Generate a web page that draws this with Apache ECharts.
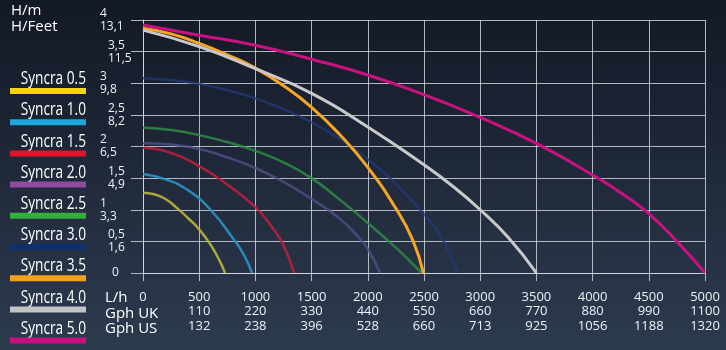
<!DOCTYPE html>
<html>
<head>
<meta charset="utf-8">
<script src="https://cdn.jsdelivr.net/npm/echarts@6/dist/echarts.min.js"></script>
<style>
html, body { margin: 0; padding: 0; }
#main { width: 726px; height: 350px; }
</style>
</head>
<body>
<div id="main"></div>
<script>
var myChart = echarts.init(document.getElementById('main'));

// models, legend bar colours, curve colours
var models = ['Syncra 0.5', 'Syncra 1.0', 'Syncra 1.5', 'Syncra 2.0', 'Syncra 2.5',
              'Syncra 3.0', 'Syncra 3.5', 'Syncra 4.0', 'Syncra 5.0'];
var legendColors = ['#f6d31a', '#1fa6de', '#e5122c', '#8d4a9e', '#36ad3e',
                    '#10306c', '#f7a11b', '#c4c4c4', '#c8117e'];
var lineColors = ['#b9b43a', '#2a92c4', '#bb1f3d', '#505088', '#2f8c44',
                  '#22397a', '#f6a623', '#c9c9c9', '#c8127f'];
var lineOpacity = [0.9, 0.9, 0.9, 0.8, 0.85, 0.75, 1, 1, 1];
var lineWidth = [2.5, 2.5, 2.5, 2.5, 2.5, 2.5, 3, 3, 3];

// curves: [flow L/h, head m]
var curve05 = [[0, 1.27], [100, 1.245], [200, 1.17], [300, 1.03], [400, 0.87], [500, 0.69],
               [600, 0.45], [680, 0.2], [730, 0]];
var curve10 = [[0, 1.565], [200, 1.48], [400, 1.31], [600, 1.0], [800, 0.55], [900, 0.28], [970, 0]];
var curve15 = [[0, 1.98], [250, 1.9], [500, 1.69], [750, 1.40], [1000, 1.04], [1150, 0.72],
               [1250, 0.44], [1345, 0]];
var curve20 = [[0, 2.05], [250, 2.03], [500, 1.96], [750, 1.83], [1000, 1.66], [1250, 1.44],
               [1500, 1.17], [1750, 0.86], [1900, 0.6], [2000, 0.38], [2110, 0]];
var curve25 = [[0, 2.30], [250, 2.26], [500, 2.18], [750, 2.07], [1000, 1.93], [1250, 1.75],
               [1500, 1.50], [1750, 1.16], [2000, 0.79], [2250, 0.40], [2400, 0.14], [2480, 0]];
var curve30 = [[0, 3.08], [250, 3.05], [500, 2.99], [750, 2.89], [1000, 2.76], [1250, 2.59],
               [1500, 2.38], [1750, 2.12], [2000, 1.80], [2250, 1.41], [2500, 0.93], [2650, 0.58], [2800, 0]];
var curve35 = [[0, 3.87], [250, 3.78], [500, 3.63], [750, 3.45], [1000, 3.24], [1250, 2.96],
               [1500, 2.62], [1750, 2.19], [2000, 1.67], [2250, 1.02], [2400, 0.52], [2495, 0]];
var curve40 = [[0, 3.84], [500, 3.58], [1000, 3.23], [1500, 2.84], [2000, 2.31], [2500, 1.71],
               [2750, 1.38], [3000, 1.0], [3250, 0.56], [3500, 0]];
var curve50 = [[0, 3.92], [500, 3.76], [1000, 3.60], [1500, 3.38], [2000, 3.13], [2500, 2.82],
               [3000, 2.46], [3500, 2.05], [4000, 1.55], [4250, 1.27], [4500, 0.94], [4750, 0.50], [5000, 0]];
var curves = [curve05, curve10, curve15, curve20, curve25, curve30, curve35, curve40, curve50];

// tick labels
var flowLh = ['0', '500', '1000', '1500', '2000', '2500', '3000', '3500', '4000', '4500', '5000'];
var flowGphUK = ['', '110', '220', '330', '440', '550', '660', '770', '880', '990', '1100'];
var flowGphUS = ['', '132', '238', '396', '528', '660', '713', '925', '1056', '1188', '1320'];
var headM = ['0', '0,5', '1', '1,5', '2', '2,5', '3', '3,5', '4'];
var headFeet = ['', '1,6', '3,3', '4,9', '6,5', '8,2', '9,8', '11,5', '13,1'];

var numFont = '"Open Sans", "Liberation Sans", sans-serif';
var gridColor = 'rgba(215,220,230,0.8)';

var graphics = [
    { type: 'text', left: 11, top: 3, style: { text: 'H/m', fill: '#fff', font: '15px ' + numFont } },
    { type: 'text', left: 11, top: 19, style: { text: 'H/Feet', fill: '#fff', font: '15px ' + numFont } },
    { type: 'text', left: 105, top: 290, style: { text: 'L/h\nGph UK\nGph US', fill: '#fff',
        font: '15px ' + numFont, lineHeight: 15.5 } }
];
models.forEach(function (name, i) {
    graphics.push({
        type: 'text',
        x: 86,
        y: 79 + i * 31.2,
        scaleX: 0.76,
        style: { text: name, x: 0, y: 0, textAlign: 'right', textVerticalAlign: 'middle',
                 fill: '#fff', font: '18px ' + numFont }
    });
    graphics.push({
        type: 'rect',
        shape: { x: 10, y: 88 + i * 31.2, width: 76, height: 6 },
        style: { fill: legendColors[i] }
    });
});

option = {
    backgroundColor: new echarts.graphic.LinearGradient(0, 0, 0, 1, [
        { offset: 0, color: '#131825' },
        { offset: 1, color: '#2d3b4f' }
    ]),
    animation: false,
    grid: { left: 143, right: 21, top: 20, bottom: 77 },
    graphic: graphics,
    xAxis: {
        type: 'value',
        min: 0,
        max: 5000,
        interval: 500,
        axisLine: { lineStyle: { color: gridColor } },
        axisTick: { show: true, length: 8, lineStyle: { color: gridColor } },
        splitLine: { show: true, lineStyle: { color: gridColor, width: 1 } },
        axisLabel: {
            margin: 17,
            color: '#eef1f5',
            fontSize: 13,
            fontFamily: numFont,
            lineHeight: 14.5,
            formatter: function (v) {
                var i = Math.round(v / 500);
                if (i === 0) return '0';
                return flowLh[i] + '\n' + flowGphUK[i] + '\n' + flowGphUS[i];
            }
        }
    },
    yAxis: {
        type: 'value',
        min: 0,
        max: 4,
        interval: 0.5,
        axisLine: { show: true, lineStyle: { color: gridColor } },
        axisTick: { show: true, length: 12, lineStyle: { color: gridColor } },
        splitLine: { show: true, lineStyle: { color: gridColor, width: 1 } },
        axisLabel: {
            align: 'left',
            margin: 43,
            color: '#eef1f5',
            fontSize: 12,
            fontFamily: numFont,
            lineHeight: 13,
            rich: {
                w: { fontSize: 12, lineHeight: 13, color: '#eef1f5', fontFamily: numFont },
                h: { fontSize: 12, lineHeight: 13, color: '#eef1f5', fontFamily: numFont, padding: [0, 0, 0, 8] },
                z: { fontSize: 12, color: '#eef1f5', fontFamily: numFont, padding: [0, 0, 0, 12] }
            },
            formatter: function (v) {
                var i = Math.round(v * 2);
                if (i === 0) return '{z|0}';
                var s = (i % 2) ? 'h' : 'w';
                return '{' + s + '|' + headM[i] + '}\n{' + s + '|' + headFeet[i] + '}';
            }
        }
    },
    series: curves.map(function (data, i) {
        return {
            name: models[i],
            type: 'line',
            data: data,
            smooth: 0.5,
            showSymbol: false,
            z: 2 + i,
            lineStyle: { color: lineColors[i], width: lineWidth[i], opacity: lineOpacity[i] }
        };
    })
};

myChart.setOption(option);
</script>
</body>
</html>
